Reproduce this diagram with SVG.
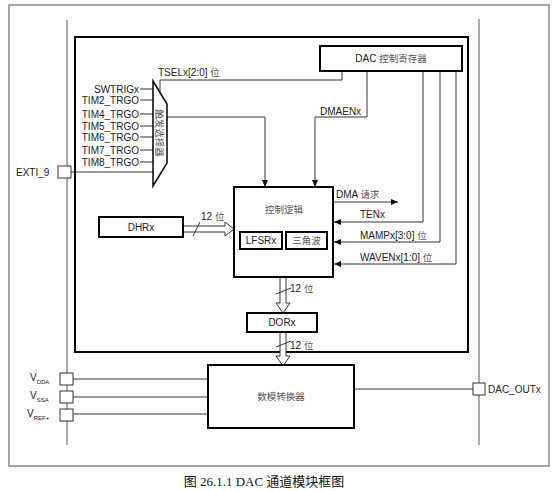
<svg xmlns="http://www.w3.org/2000/svg" width="558" height="491" viewBox="0 0 558 491">
<style>
.t{font-family:"Liberation Sans","Noto Sans CJK SC",sans-serif;font-size:10px;fill:#222}
.c{font-family:"Noto Sans CJK SC","Liberation Sans",sans-serif;font-size:9.5px;fill:#555}
.box{fill:#fff;stroke:#000;stroke-width:2}
.ln{fill:none;stroke:#333;stroke-width:1}
.pin{fill:#fff;stroke:#333;stroke-width:1}
.sub{font-family:"Liberation Sans",sans-serif;font-size:6px;fill:#222}
</style>
<defs>
<marker id="ah" markerWidth="8" markerHeight="8" refX="7" refY="4" orient="auto" markerUnits="userSpaceOnUse">
<path d="M0,1 L7,4 L0,7 Z" fill="#000"/>
</marker>
</defs>
<rect width="558" height="491" fill="#fff"/>
<g id="frame">
<rect x="9" y="5" width="540" height="461" fill="none" stroke="#888" stroke-width="1.5"/>
<line x1="67" y1="20" x2="67" y2="445" stroke="#555" stroke-width="1"/>
<line x1="479" y1="19" x2="479" y2="445" stroke="#555" stroke-width="1"/>
<rect x="75" y="37" width="393" height="315" fill="none" stroke="#000" stroke-width="2"/>
</g>
<g id="connectors">
<polyline class="ln" points="342,71 342,80 160,80 160,92"/>
<polyline class="ln" points="167,117 265,117 265,187" marker-end="url(#ah)"/>
<polyline class="ln" points="367,71 367,117 315,117 315,187" marker-end="url(#ah)"/>
<line class="ln" x1="140" y1="89" x2="153" y2="89"/>
<line class="ln" x1="140" y1="100" x2="153" y2="100"/>
<line class="ln" x1="140" y1="114" x2="153" y2="114"/>
<line class="ln" x1="140" y1="126" x2="153" y2="126"/>
<line class="ln" x1="140" y1="137" x2="153" y2="137"/>
<line class="ln" x1="140" y1="150" x2="153" y2="150"/>
<line class="ln" x1="140" y1="162" x2="153" y2="162"/>
<line class="ln" x1="71" y1="172" x2="153" y2="172"/>
<line class="ln" x1="333" y1="202" x2="398" y2="202" marker-end="url(#ah)"/>
<polyline class="ln" points="423,71 423,222 334,222" marker-end="url(#ah)"/>
<polyline class="ln" points="440,71 440,242 334,242" marker-end="url(#ah)"/>
<polyline class="ln" points="456,71 456,264 334,264" marker-end="url(#ah)"/>
<path d="M183,226 L225,226 L225,222 L234,229 L225,236 L225,232 L183,232" fill="#fff" stroke="#333" stroke-width="1"/>
<line class="ln" x1="193" y1="236" x2="200" y2="222"/>
<path d="M280,277 L280,303 L276,303 L283,313 L290,303 L286,303 L286,277" fill="#fff" stroke="#333" stroke-width="1"/>
<line class="ln" x1="276" y1="294" x2="291" y2="288"/>
<path d="M280,332 L280,356 L276,356 L283,366 L290,356 L286,356 L286,332" fill="#fff" stroke="#333" stroke-width="1"/>
<line class="ln" x1="276" y1="347" x2="291" y2="341"/>
<line class="ln" x1="73" y1="379" x2="208" y2="379"/>
<line class="ln" x1="73" y1="397" x2="208" y2="397"/>
<line class="ln" x1="73" y1="414" x2="208" y2="414"/>
<line class="ln" x1="354" y1="389" x2="473" y2="389"/>
</g>
<g id="labels">
<text class="t" x="158" y="76">TSELx[2:0] <tspan class="c">位</tspan></text>
<text class="t" x="320" y="115">DMAENx</text>
<text class="t" x="336" y="198">DMA <tspan class="c">请求</tspan></text>
<text class="t" x="360" y="218">TENx</text>
<text class="t" x="360" y="239">MAMPx[3:0] <tspan class="c">位</tspan></text>
<text class="t" x="360" y="261">WAVENx[1:0] <tspan class="c">位</tspan></text>
<text class="t" x="201" y="220">12 <tspan class="c">位</tspan></text>
<text class="t" x="290" y="292">12 <tspan class="c">位</tspan></text>
<text class="t" x="290" y="349">12 <tspan class="c">位</tspan></text>
<text class="t" x="139" y="93" text-anchor="end">SWTRIGx</text>
<text class="t" x="139" y="104" text-anchor="end">TIM2_TRGO</text>
<text class="t" x="139" y="118" text-anchor="end">TIM4_TRGO</text>
<text class="t" x="139" y="130" text-anchor="end">TIM5_TRGO</text>
<text class="t" x="139" y="141" text-anchor="end">TIM6_TRGO</text>
<text class="t" x="139" y="154" text-anchor="end">TIM7_TRGO</text>
<text class="t" x="139" y="166" text-anchor="end">TIM8_TRGO</text>
</g>
<g id="mux">
<polygon points="153,81 167,104 167,163 153,186" fill="#fff" stroke="#000" stroke-width="1.5"/>
<text class="c" transform="translate(160,133) rotate(90)" text-anchor="middle" dominant-baseline="central" font-size="8.5">触发选择器</text>
</g>
<g id="register">
<rect class="box" x="320" y="46" width="142" height="25"/>
<text class="t" x="391" y="62" text-anchor="middle">DAC <tspan class="c">控制寄存器</tspan></text>
</g>
<g id="control">
<rect class="box" x="234" y="187" width="99" height="90"/>
<text class="c" x="284" y="213" text-anchor="middle">控制逻辑</text>
<rect class="box" x="240" y="232" width="42" height="17"/>
<text class="t" x="261" y="244" text-anchor="middle">LFSRx</text>
<rect class="box" x="286" y="232" width="41" height="17"/>
<text class="c" x="306.5" y="244" text-anchor="middle">三角波</text>
</g>
<g id="dhr">
<rect class="box" x="99" y="217" width="84" height="20"/>
<text class="t" x="141" y="231" text-anchor="middle">DHRx</text>
</g>
<g id="dor">
<rect class="box" x="247" y="313" width="70" height="19"/>
<text class="t" x="282" y="326" text-anchor="middle">DORx</text>
</g>
<g id="converter">
<rect class="box" x="208" y="365" width="146" height="63"/>
<text class="c" x="281" y="400" text-anchor="middle">数模转换器</text>
</g>
<g id="exti">
<rect class="pin" x="58" y="166" width="13" height="12"/>
<text class="t" x="16" y="176">EXTI_9</text>
</g>
<g id="vdda">
<rect class="pin" x="60" y="373" width="13" height="12"/>
<text class="t" x="30" y="381">V<tspan class="sub" dy="3">DDA</tspan></text>
</g>
<g id="vssa">
<rect class="pin" x="60" y="391" width="13" height="12"/>
<text class="t" x="30" y="399">V<tspan class="sub" dy="3">SSA</tspan></text>
</g>
<g id="vref">
<rect class="pin" x="60" y="409" width="13" height="12"/>
<text class="t" x="27" y="417">V<tspan class="sub" dy="3">REF+</tspan></text>
</g>
<g id="dacout">
<rect class="pin" x="473" y="383" width="12" height="12"/>
<text class="t" x="488" y="393">DAC_OUTx</text>
</g>
<text x="264" y="486" text-anchor="middle" font-family="Liberation Serif, Noto Sans CJK SC, serif" font-size="13" fill="#111">图 26.1.1 DAC 通道模块框图</text>
</svg>
